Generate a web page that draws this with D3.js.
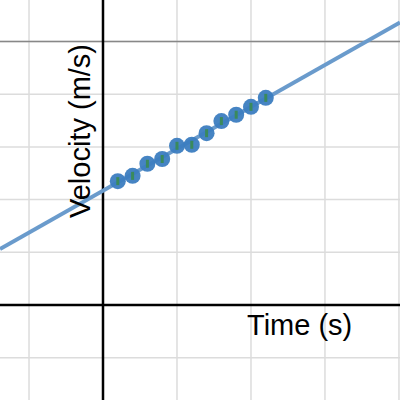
<!DOCTYPE html>
<html>
<head>
<script src="https://cdn.jsdelivr.net/npm/d3@7"></script>
<style>body{margin:0;background:#fff}</style>
</head>
<body>
<div id="chart"></div>
<script>
// Data
const timeVals = [0.2, 0.4, 0.6, 0.8, 1.0, 1.2, 1.4, 1.6, 1.8, 2.0, 2.2];
const velVals = [2.35, 2.45, 2.68, 2.77, 3.02, 3.04, 3.26, 3.49, 3.61, 3.76, 3.93];
const fitSlope = 0.795, fitIntercept = 2.17;
const refLineY = 5;
const gridX = [-1, 1, 2, 3, 4];
const gridY = [-1, 1, 2, 3, 4, 5];

const width = 400, height = 400;
const x = d3.scaleLinear().domain([-1.392, 4.014]).range([0, width]);
const y = d3.scaleLinear().domain([-1.803, 5.787]).range([height, 0]);

const svg = d3.select("#chart").append("svg").attr("width", width).attr("height", height);

// Grid
svg.selectAll(".gx").data(gridX).enter().append("line")
    .attr("x1", d => x(d)).attr("x2", d => x(d)).attr("y1", 0).attr("y2", height)
    .attr("stroke", "#dcdcdc").attr("stroke-width", 1.5);
svg.selectAll(".gy").data(gridY).enter().append("line")
    .attr("y1", d => y(d)).attr("y2", d => y(d)).attr("x1", 0).attr("x2", width)
    .attr("stroke", "#dcdcdc").attr("stroke-width", 1.5);

// Horizontal reference line
svg.append("line").attr("x1", 0).attr("x2", width).attr("y1", y(refLineY)).attr("y2", y(refLineY))
    .attr("stroke", "#888").attr("stroke-width", 1.5);

// Axes
svg.append("line").attr("x1", x(0)).attr("x2", x(0)).attr("y1", 0).attr("y2", height)
    .attr("stroke", "#000").attr("stroke-width", 2.5);
svg.append("line").attr("x1", 0).attr("x2", width).attr("y1", y(0)).attr("y2", y(0))
    .attr("stroke", "#000").attr("stroke-width", 2.5);

// Fit line
const [x0, x1] = x.domain();
svg.append("line")
    .attr("x1", x(x0)).attr("y1", y(fitIntercept + fitSlope * x0))
    .attr("x2", x(x1)).attr("y2", y(fitIntercept + fitSlope * x1))
    .attr("stroke", "#6a9bcc").attr("stroke-width", 4);

// Points
const pts = timeVals.map((t, i) => ({t, v: velVals[i]}));
svg.selectAll(".pt").data(pts).enter().append("circle")
    .attr("cx", d => x(d.t)).attr("cy", d => y(d.v)).attr("r", 8)
    .attr("fill", "#3c7dc0").attr("opacity", 0.95);
svg.selectAll(".eb").data(pts).enter().append("line")
    .attr("x1", d => x(d.t)).attr("x2", d => x(d.t))
    .attr("y1", d => y(d.v) - 4).attr("y2", d => y(d.v) + 4)
    .attr("stroke", "#3a8a5c").attr("stroke-width", 3);

// Labels
svg.append("text").attr("transform", `translate(90,131) rotate(-90)`)
    .attr("text-anchor", "middle").attr("font-family", "Liberation Sans, Arial, sans-serif")
    .attr("font-size", 29).text("Velocity (m/s)");
svg.append("text").attr("x", 247).attr("y", 335)
    .attr("font-family", "Liberation Sans, Arial, sans-serif")
    .attr("font-size", 29).text("Time (s)");
</script>
</body>
</html>
